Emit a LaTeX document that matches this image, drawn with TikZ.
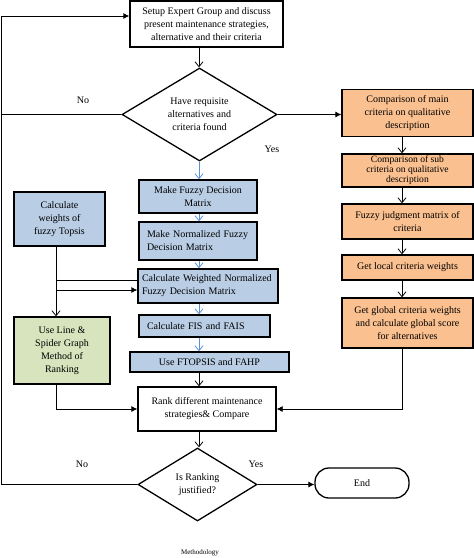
\documentclass[tikz,border=0pt]{standalone}
\usepackage{fontspec}
\setmainfont{Liberation Serif}
\usetikzlibrary{shapes.geometric,arrows.meta}

\definecolor{boxblue}{HTML}{B9CDE5}
\definecolor{boxorange}{HTML}{FAC08F}
\definecolor{boxgreen}{HTML}{D7E4BD}
\definecolor{arrblue}{HTML}{5B8FD6}

\tikzset{
  stepbox/.style={draw, line width=1.3pt, inner sep=2pt, align=center,
    font=\fontsize{10}{13}\selectfont},
  bluebox/.style={stepbox, fill=boxblue},
  orangebox/.style={stepbox, fill=boxorange},
  greenbox/.style={stepbox, fill=boxgreen},
  decision/.style={diamond, draw, line width=1.3pt, inner sep=0pt, align=center,
    font=\fontsize{10}{13}\selectfont},
  link/.style={line width=0.8pt},
  harr/.style={link, -{Latex[length=6pt,width=6pt]}},
  varr/.style={link, -{Straight Barb[length=5pt,width=8pt]}},
  barr/.style={varr, arrblue},
  lbl/.style={font=\fontsize{10}{12}\selectfont}
}

\begin{document}
\begin{tikzpicture}[x=1pt,y=1pt,yscale=-1,xscale=1]

\useasboundingbox (0,0) rectangle (474,558);

\coordinate (fcol) at (1,0);
\coordinate (lcol) at (56,0);
\coordinate (col) at (199,0);
\coordinate (ocol) at (402,0);

% main column
\node[stepbox, fill=white, minimum width=153, minimum height=46] (setup) at (206.5,24)
  {Setup Expert Group and discuss\\present maintenance strategies,\\alternative and their criteria};
\node[decision, aspect=1.67, minimum width=155, minimum height=93] (found) at (199.5,114.5)
  {Have requisite\\alternatives and\\criteria found};
\node[bluebox, minimum width=118, minimum height=33] (fdm) at (198,196.5)
  {Make Fuzzy Decision\\Matrix};
\node[bluebox, align=left, text width=102, minimum width=118, minimum height=38] (nfdm) at (198,241)
  {Make Normalized Fuzzy\\Decision Matrix};
\node[bluebox, align=left, text width=132, minimum width=140, minimum height=34] (wnfdm) at (208,286)
  {Calculate Weighted Normalized\\Fuzzy Decision Matrix};
\node[bluebox, align=left, text width=115, minimum width=131, minimum height=22] (fis) at (204.5,326)
  {Calculate FIS and FAIS};
\node[bluebox, minimum width=159, minimum height=20] (ftop) at (209.5,362)
  {Use FTOPSIS and FAHP};
\node[stepbox, fill=white, minimum width=138, minimum height=44] (rank) at (207,409)
  {Rank different maintenance\\strategies\& Compare};
\node[decision, aspect=1.63, minimum width=119, minimum height=73] (just) at (197.5,484.5)
  {Is Ranking\\justified?};
\node[stepbox, rounded corners=14pt, minimum width=94, minimum height=30] (end) at (362,483)
  {End};

% AHP column
\node[orangebox, minimum width=131, minimum height=47] (main) at (407.5,112.7)
  {Comparison of main\\criteria on qualitative\\description};
\node[orangebox, minimum width=131, minimum height=33, inner sep=0pt, font=\fontsize{9.6}{10}\selectfont] (sub) at (407.5,170.5)
  {Comparison of sub\\criteria on qualitative\\description};
\node[orangebox, minimum width=131, minimum height=35] (judg) at (407.5,221.5)
  {Fuzzy judgment matrix of\\criteria};
\node[orangebox, minimum width=131, minimum height=25] (local) at (407.5,267.5)
  {Get local criteria weights};
\node[orangebox, minimum width=131, minimum height=50] (global) at (407.5,323)
  {Get global criteria weights\\and calculate global score\\for alternatives};

% left column
\node[bluebox, minimum width=91, minimum height=54] (wts) at (59.5,219)
  {Calculate\\weights of\\fuzzy Topsis};
\node[greenbox, minimum width=96, minimum height=67] (spider) at (62,350.5)
  {Use Line \&\\Spider Graph\\Method of\\Ranking};

% labels
\node[lbl] (no1) at (83,100) {No};
\node[lbl] (yes1) at (272,149) {Yes};
\node[lbl] (no2) at (82,464) {No};
\node[lbl] (yes2) at (256,464) {Yes};
\node[font=\fontsize{7}{8}\selectfont] (cap) at (200,553) {Methodology};

% connectors
\draw[varr] (setup.south -| col) -- (found.north -| col);
\draw[barr] (found.south -| col) -- (fdm.north -| col);
\draw[barr] (fdm.south -| col) -- (nfdm.north -| col);
\draw[barr] (nfdm.south -| col) -- (wnfdm.north -| col);
\draw[barr] (wnfdm.south -| col) -- (fis.north -| col);
\draw[barr] (fis.south -| col) -- (ftop.north -| col);
\draw[varr] (ftop.south -| col) -- (rank.north -| col);
\draw[varr] (rank.south -| col) -- (just.north -| col);
\draw[harr] (just.east) -- (end.west |- just.east);

\draw[harr] (found.east) -- (found.east -| main.west);
\draw[varr] (main.south -| ocol) -- (sub.north -| ocol);
\draw[varr] (sub.south -| ocol) -- (judg.north -| ocol);
\draw[varr] (judg.south -| ocol) -- (local.north -| ocol);
\draw[varr] (local.south -| ocol) -- (global.north -| ocol);
\draw[harr] (global.south -| ocol) |- (rank.east);

\draw[harr] (wts.south -| lcol) |- ([yshift=4pt]wnfdm.west);
\draw[varr] ([yshift=-6pt]wnfdm.west) -| (spider.north -| lcol);
\draw[harr] (spider.south -| lcol) |- (rank.west);

\draw[link] (found.west) -- (found.west -| fcol);
\draw[harr] (just.west) -- (just.west -| fcol) |- ([yshift=-8pt]setup.west);

\end{tikzpicture}
\end{document}
